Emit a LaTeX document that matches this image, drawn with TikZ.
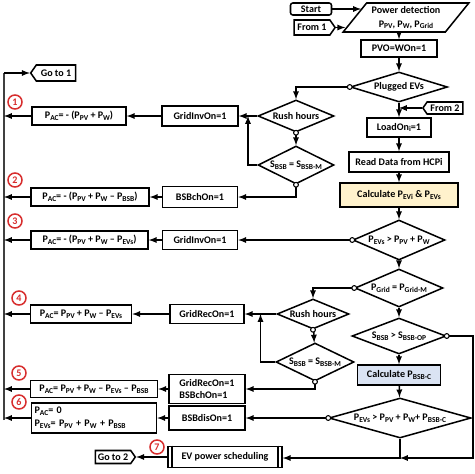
\documentclass[tikz,border=0pt]{standalone}
\usepackage{fontspec}
\setmainfont{Carlito}
\usetikzlibrary{shapes.geometric, shapes.symbols, arrows, calc}
\definecolor{lightyellow}{RGB}{255,242,204}
\definecolor{lightsteel}{RGB}{218,227,243}
\definecolor{numred}{RGB}{215,45,45}
\newlength{\px}
\setlength{\px}{0.03cm}
\newcommand{\sbs}[1]{\raisebox{-0.35ex}{\fontsize{6.4}{7}\selectfont #1}}

\begin{document}
\begin{tikzpicture}[x=\px, y=-\px,
  font=\fontsize{8.6}{10}\selectfont\bfseries,
  box/.style={draw, rectangle, line width=1.3pt, inner sep=1pt},
  dec/.style={draw, diamond, line width=1.3pt, inner sep=0pt},
  term/.style={draw, signal, line width=1.3pt, inner sep=1pt, signal pointer angle=110},
  num/.style={draw=numred, circle, text=numred, line width=1.3pt, minimum size=14\px, inner sep=0pt},
  arr/.style={-latex, line width=1.3pt},
  bus/.style={line width=2.2pt, black!75}]
\useasboundingbox (0,0) rectangle (474,474);

% Start and inputs
\node[box, rounded corners=2pt, minimum width=41\px, minimum height=12\px] (start) at (311,9) {Start};
\node[draw, trapezium, trapezium left angle=50, trapezium right angle=130, trapezium stretches=true, line width=1.3pt, minimum width=126\px, minimum height=29\px, align=center, inner sep=1pt] (pd) at (406,17.5) {Power detection\\[2pt]P\sbs{PV}, P\sbs{W}, P\sbs{Grid}};
\node[term, signal to=east, minimum width=41\px, minimum height=15\px] (from1) at (312,27.5) {From 1};
\node[box, minimum width=76\px, minimum height=17\px] (pvo) at (399,48.5) {PVO=WOn=1};

% Main column
\node[dec, minimum width=97\px, minimum height=30\px, label=center:{Plugged EVs}] (plug) at (399,87) {};
\node[term, signal to=west, minimum width=40\px, minimum height=12\px] (from2) at (445,108) {From 2};
\node[box, minimum width=64\px, minimum height=19\px] (load) at (399,127.5) {LoadOn\sbs{i}=1};
\node[box, minimum width=100\px, minimum height=20\px] (read) at (399,162) {Read Data from HCPi};
\node[box, fill=lightyellow, minimum width=118\px, minimum height=24\px] (calc) at (399,195) {Calculate P\sbs{EVi} \& P\sbs{EVs}};
\node[dec, minimum width=92\px, minimum height=40\px, label=center:{P\sbs{EVs} > P\sbs{PV} + P\sbs{W}}] (d1) at (399,240) {};
\node[dec, minimum width=88\px, minimum height=38\px, label=center:{P\sbs{Grid} = P\sbs{Grid-M}}] (d2) at (399,288) {};
\node[dec, minimum width=94\px, minimum height=36\px, label=center:{S\sbs{BSB} > S\sbs{BSB-OP}}] (d3) at (399,336) {};
\node[box, fill=lightsteel, minimum width=83\px, minimum height=20\px] (calcb) at (399,375) {Calculate P\sbs{BSB-C}};
\node[dec, minimum width=142\px, minimum height=40\px, label=center:{P\sbs{EVs} > P\sbs{PV} + P\sbs{W}+ P\sbs{BSB-C}}] (d4) at (400,418) {};

% Upper branch
\node[dec, minimum width=76\px, minimum height=32\px, label=center:{Rush hours}] (rh1) at (296,116) {};
\node[dec, minimum width=76\px, minimum height=38\px, label=center:{S\sbs{BSB} = S\sbs{BSB-M}}] (sb1) at (296,165) {};
\node[box, minimum width=76\px, minimum height=20\px] (gi1) at (200,116) {GridInvOn=1};
\node[box, minimum width=94\px, minimum height=18\px] (pa1) at (79,116) {P\sbs{AC}= - (P\sbs{PV} + P\sbs{W})};
\node[box, minimum width=75\px, minimum height=21\px] (bc2) at (200,197) {BSBchOn=1};
\node[box, minimum width=118\px, minimum height=18\px] (pa2) at (90,197) {P\sbs{AC}= - (P\sbs{PV} + P\sbs{W} -- P\sbs{BSB})};
\node[box, minimum width=75\px, minimum height=19\px] (gi3) at (200,240) {GridInvOn=1};
\node[box, minimum width=117\px, minimum height=18\px] (pa3) at (89.5,240) {P\sbs{AC}= - (P\sbs{PV} + P\sbs{W} -- P\sbs{EVs})};

% Lower branch
\node[dec, minimum width=72\px, minimum height=30\px, label=center:{Rush hours}] (rh2) at (313,314) {};
\node[dec, minimum width=78\px, minimum height=38\px, label=center:{S\sbs{BSB} = S\sbs{BSB-M}}] (sb2) at (315,362) {};
\node[box, minimum width=74\px, minimum height=19\px] (gr4) at (207,314) {GridRecOn=1};
\node[box, minimum width=101\px, minimum height=18\px] (pa4) at (81,314) {P\sbs{AC}= P\sbs{PV} + P\sbs{W} -- P\sbs{EVs}};
\node[box, minimum width=76\px, minimum height=29\px, align=left] (gb5) at (207,389) {GridRecOn=1\\BSBchOn=1};
\node[box, minimum width=127\px, minimum height=17\px] (pa5) at (94,389) {P\sbs{AC}= P\sbs{PV} + P\sbs{W} -- P\sbs{EVs} -- P\sbs{BSB}};
\node[box, minimum width=76\px, minimum height=24\px] (bd6) at (207,418) {BSBdisOn=1};
\node[box, text width=119\px, minimum height=30\px, inner xsep=3\px, align=left] (pa6) at (94,418) {P\sbs{AC}= 0\\[1pt]P\sbs{EVs}= P\sbs{PV} + P\sbs{W} + P\sbs{BSB}};
\node[box, minimum width=114\px, minimum height=21\px] (ev) at (225,457) {EV power scheduling};
\draw[line width=1.3pt] ([xshift=5\px]ev.north west) -- ([xshift=5\px]ev.south west);
\draw[line width=1.3pt] ([xshift=-5\px]ev.north east) -- ([xshift=-5\px]ev.south east);
\node[term, signal to=east, minimum width=40\px, minimum height=13\px] (g2) at (113,457) {Go to 2};
\node[term, signal to=west, minimum width=45\px, minimum height=16\px] (g1) at (56,73) {Go to 1};

% Case numbers
\node[num] (n1) at (15,102) {1};
\node[num] (n2) at (15,180) {2};
\node[num] (n3) at (15,221) {3};
\node[num] (n4) at (19,298) {4};
\node[num] (n5) at (19,373) {5};
\node[num] (n6) at (19,402) {6};
\node[num] (n7) at (157,447) {7};

% Connectors, main column
\draw[arr] (start.east) -- (start.east -| pd.169);
\draw[arr] (from1.east) -- (from1.east -| pd.190);
\draw[arr] (pvo.north |- pd.south) -- (pvo.north);
\draw[arr] (pvo) -- (plug);
\draw[arr] (plug) -- (load);
\draw[arr] (from2.west) -- (from2.west -| load);
\draw[arr] (load) -- (read);
\draw[arr] (read) -- (calc);
\draw[arr] (calc) -- (d1);
\draw[arr] (d1) -- (d2);
\draw[arr] (d2) -- (d3);
\draw[arr] (d3) -- (calcb);
\draw[arr] (calcb) -- (d4);
\coordinate (join) at (400,458);
\draw[arr] (d4.south) -- (join) -- (ev.east |- join);
\draw[arr] (d3.east) -- ++(26,0) |- (join);
\draw[arr] (ev) -- (g2);

% Connectors, left branches
\draw[arr] (plug.west) -| (rh1.north);
\draw[arr] (rh1) -- (sb1);
\draw[arr] (rh1.west) -- (gi1.east);
\draw[arr] (sb1.west) -| ($(gi1.east)!0.5!(rh1.west)$);
\draw[arr] (sb1.south) |- (bc2.east);
\draw[arr] (d1.west) -- (gi3.east);
\draw[arr] (d2.west) -| (rh2.north);
\draw[arr] (rh2) -- (sb2);
\draw[arr] (rh2.west) -- (gr4.east);
\draw[arr] (sb2.west) -| ($(gr4.east)!0.5!(rh2.west)$);
\draw[arr] (sb2.south) |- (gb5.east);
\draw[arr] (d4.west) -- (bd6.east);
\draw[arr] (gi1) -- (pa1);
\draw[arr] (bc2) -- (pa2);
\draw[arr] (gi3) -- (pa3);
\draw[arr] (gr4) -- (pa4);
\draw[arr] (gb5) -- (pa5);
\draw[arr] (bd6) -- (pa6);

% Return bus
\coordinate (bustop) at (4,73);
\coordinate (busbot) at (4,420);
\draw[bus] (busbot) -- (bustop);
\draw[arr] (bustop) -- (g1.west);
\draw[arr] (pa1.west) -- (pa1.west -| bustop);
\draw[arr] (pa2.west) -- (pa2.west -| bustop);
\draw[arr] (pa3.west) -- (pa3.west -| bustop);
\draw[arr] (pa4.west) -- (pa4.west -| bustop);
\draw[arr] (pa5.west) -- (pa5.west -| bustop);
\draw[arr] (pa6.west) -- (pa6.west -| bustop);

% Open circles on decision exits
\foreach \p in {plug.west, rh1.south, sb1.south, d1.west, d2.west, rh2.south, sb2.south, d3.east, d4.west}
  \draw[fill=white, line width=0.9pt] (\p) circle (2.4\px);
\end{tikzpicture}
\end{document}
